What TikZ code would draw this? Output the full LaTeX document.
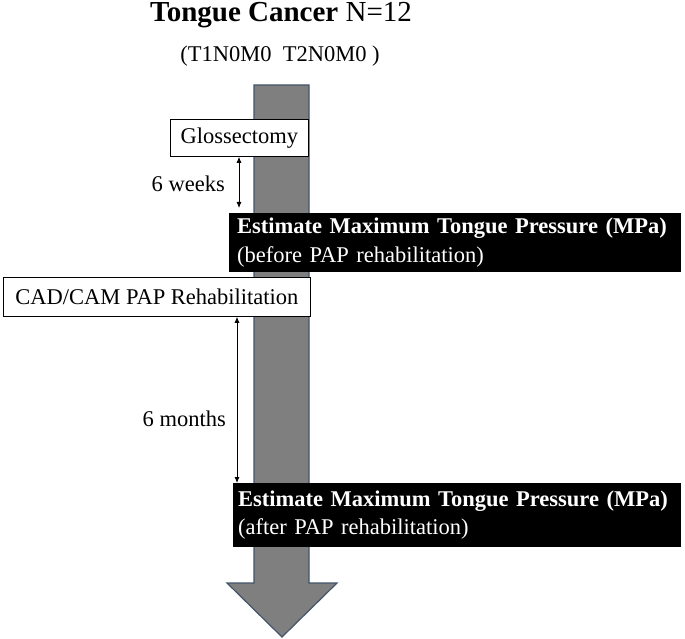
\documentclass[tikz,border=0pt]{standalone}
\usepackage{fontspec}
\setmainfont{Liberation Serif}
\usetikzlibrary{arrows.meta}
\definecolor{shaftgray}{HTML}{7F7F7F}
\definecolor{shaftedge}{HTML}{44546A}
\begin{document}
\begin{tikzpicture}[x=1pt,y=-1pt,
  wbox/.style={draw=black, line width=0.8pt, fill=white, inner sep=0pt, anchor=north west, font=\fontsize{22.5}{28}\selectfont},
  bbox/.style={fill=black, text=white, inner ysep=0pt, anchor=north west, align=left, font=\fontsize{22.5}{28.5}\selectfont},
  dim/.style={line width=0.8pt, {Latex[length=6pt,width=5pt]}-{Latex[length=6pt,width=5pt]}},
  lbl/.style={font=\fontsize{22.5}{27}\selectfont, inner sep=0pt, anchor=base east},
  ttl/.style={inner sep=0pt, anchor=base}]
\useasboundingbox (0,0) rectangle (685,639);
% big downward arrow
\draw[fill=shaftgray, draw=shaftedge, line width=1.2pt]
  (254,85) -- (309,85) -- (309,583) -- (337,583) -- (282,637) -- (227,583) -- (254,583) -- cycle;
% title
\node[ttl, font=\fontsize{29}{34}\selectfont] (title) at (281,22) {\textbf{Tongue Cancer} N=12};
\node[ttl, font=\fontsize{22.5}{27}\selectfont] (stage) at (280,62) {(T1N0M0\ \ T2N0M0 )};
% boxes
\node[wbox, minimum width=138pt, minimum height=37pt] (glos) at (170,119) {Glossectomy};
\node[bbox, inner xsep=8pt, text width=436pt, minimum height=59pt] (est1) at (229,213)
  {\textbf{Estimate Maximum Tongue Pressure (MPa)}\\(before PAP rehabilitation)};
\node[wbox, minimum width=307pt, minimum height=39pt] (cad) at (3,277) {CAD/CAM PAP Rehabilitation};
\node[bbox, inner xsep=5pt, text width=438pt, minimum height=64pt] (est2) at (233,483)
  {\textbf{Estimate Maximum Tongue Pressure (MPa)}\\(after PAP rehabilitation)};
% interval arrows
\coordinate (a1) at (239,0);
\coordinate (a2) at (237,0);
\draw[dim, shorten >=5pt] (glos.south -| a1) -- (est1.north -| a1);
\draw[dim] (cad.south -| a2) -- (est2.north -| a2);
\node[lbl] (w6) at (225,192) {6 weeks};
\node[lbl] (m6) at (226,426) {6 months};
\end{tikzpicture}
\end{document}
